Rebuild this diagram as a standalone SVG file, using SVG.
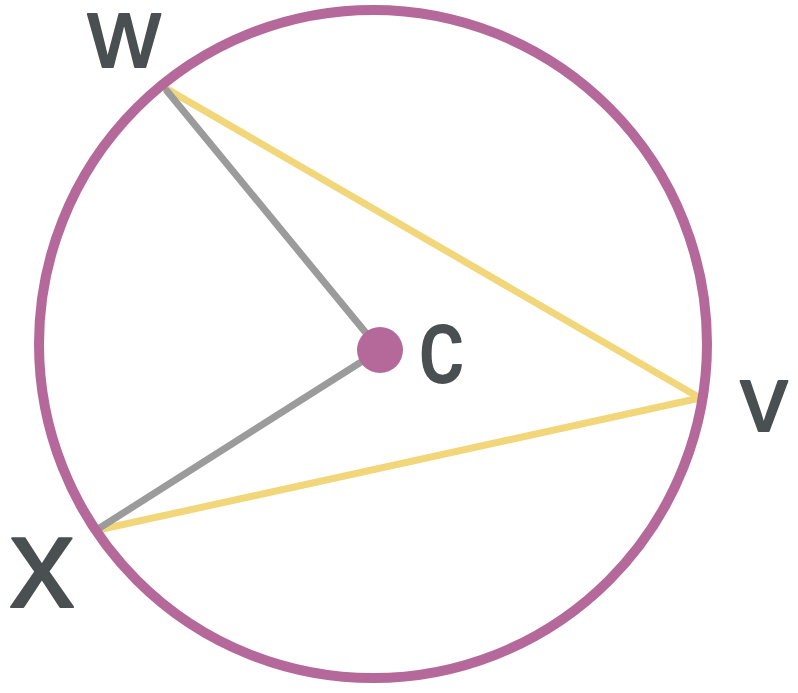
<svg xmlns="http://www.w3.org/2000/svg" width="798" height="693" viewBox="0 0 798 693">
<style>
.lbl{font-family:"Liberation Sans","DejaVu Sans",sans-serif;fill:#4a4f51;stroke:#4a4f51;stroke-width:2;stroke-linejoin:round;stroke-linecap:round;text-anchor:middle}
.gray{stroke:#9b9b9b;stroke-width:7;stroke-linecap:round;fill:none}
.yel{stroke:#f2d67a;stroke-width:7;stroke-linecap:round;fill:none}
</style>
<rect width="798" height="693" fill="#ffffff"/>
<g id="connectors">
<line class="yel" x1="167" y1="89" x2="700" y2="398"/>
<line class="yel" x1="98" y1="530" x2="700" y2="398"/>
<line class="gray" x1="167" y1="91" x2="380" y2="350"/>
<line class="gray" x1="98" y1="529" x2="380" y2="350"/>
</g>
<g id="circle">
<circle cx="373" cy="344" r="334" fill="none" stroke="#b5699b" stroke-width="10"/>
</g>
<g id="node-C">
<circle cx="380" cy="350" r="23" fill="#b5699b"/>
<text class="lbl" x="441" y="382" font-size="105" transform="translate(441 0) scale(0.85 1) translate(-441 0)">c</text>
</g>
<g id="node-W">
<text class="lbl" x="124" y="67" font-size="100">w</text>
</g>
<g id="node-V">
<text class="lbl" x="764" y="431" font-size="95">v</text>
</g>
<g id="node-X">
<text class="lbl" x="42" y="607" font-size="130">x</text>
</g>
</svg>
